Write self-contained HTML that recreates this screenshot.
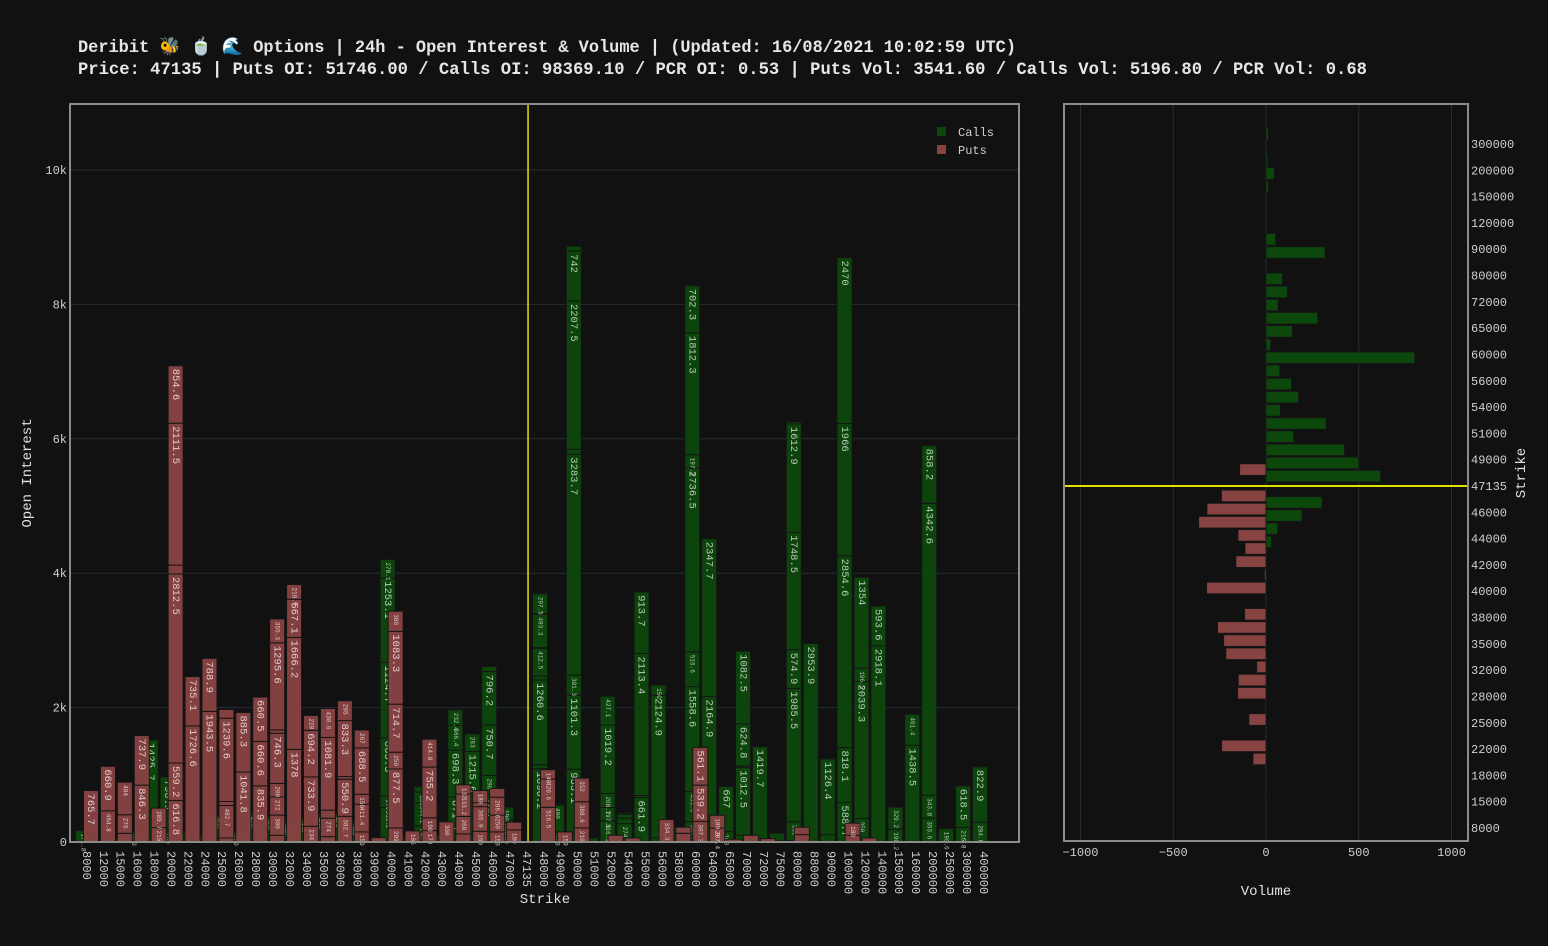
<!DOCTYPE html>
<html><head><meta charset="utf-8">
<style>
html,body{margin:0;padding:0;background:#111111;}
svg{display:block;font-family:"Liberation Mono","DejaVu Sans Mono",monospace;}
</style></head>
<body>
<svg id="chart" width="1548" height="946" viewBox="0 0 1548 946" xmlns="http://www.w3.org/2000/svg">
<rect x="0" y="0" width="1548" height="946" fill="#111111"/>
<text x="78" y="52" fill="#e6e6e6" font-size="17.5" font-weight="bold" textLength="938" lengthAdjust="spacingAndGlyphs">Deribit 🐝 🍵 🌊 Options | 24h - Open Interest &amp; Volume | (Updated: 16/08/2021 10:02:59 UTC)</text>
<text x="78" y="74" fill="#e6e6e6" font-size="17.5" font-weight="bold" textLength="1289" lengthAdjust="spacingAndGlyphs">Price: 47135 | Puts OI: 51746.00 / Calls OI: 98369.10 / PCR OI: 0.53 | Puts Vol: 3541.60 / Calls Vol: 5196.80 / PCR Vol: 0.68</text>
<g id="main"></g>
<g id="vol"></g>
</svg>
<script>
const strikes = [8000,12000,15000,16000,18000,20000,22000,24000,25000,26000,28000,30000,32000,34000,35000,36000,38000,39000,40000,41000,42000,43000,44000,45000,46000,47000,47135,48000,49000,50000,51000,52000,54000,55000,56000,58000,60000,64000,65000,70000,72000,75000,80000,88000,90000,100000,120000,140000,150000,160000,200000,250000,300000,400000];
const callsOI = [[171.8],[0],[60],[150],[94,1425.7],[180,790.1],[130],[100],[400],[150],[420],[380],[300],[350],[400],[420],[300],[0],[513.2,170,865.5,1124.7,1253.1,278.1],[60],[240,344.2,160,80],[100],[671.1,698.3,366.4,232.4],[130,1215.6,263],[700,290,750.7,796.2,75],[180,150,190],[0],[1090.2,60,1260.6,60,412.5,10,493.3,10,297.5],[150,400],[130,953.1,1101.3,301.3,3283.7,74.7,2207.5,742,70],[60],[316.1,197.5,208.7,1019.2,427.1,10],[274,80,60,20],[661.9,30,2113.4,913.7],[60,2124.9,150],[120,100],[301.1,453.6,1558.6,516.6,2736.5,197.3,1812.3,702.3],[2164.9,2347.7],[160,667],[100,1012.5,20,624.8,1082.5],[1419.7],[131.4],[300,1985.5,574.9,1748.5,1612.9,30],[2953.9],[110,1126.4],[588.7,818.1,2854.6,1966,2470],[350,2039.3,196.5,1354],[2918.1,593.6],[190.2,329.2],[1438.5,461.4],[353.6,343.8,4342.6,858.2],[198.6],[216.8,618.5],[294.8,822.9]];
const putsOI = [[765.7],[464.8,660.9],[130,276,484],[846.3,737.9],[215,289.7],[616.8,559.2,2812.5,132.2,2111.5,854.6],[1726.6,735.1],[1943.5,788.9],[60,482.7,60,1239.6,130],[1041.8,885.3],[835.9,660.6,660.5],[100,300,272,200,746.3,50,1295.6,355.3],[1378,1666.2,567.1,219.9],[234,733.9,694.2,220],[80,274,120,1081.9,430.6],[382.7,550.9,40,833.3,295],[150,411.4,150,688.5,267],[65],[209,877.5,250,714.7,1083.3,300],[165],[170,190,755.2,414.8],[300],[120,260,333.2,137],[160,365.9,60,180],[150,250,266.6,130],[180,115],[0],[516.5,420.6,140],[150],[210,388.6,352],[0],[100],[60],[0],[334.3],[130,90],[307.3,539.2,561.1],[207.4,189.9],[40],[100],[50],[20],[110,110],[0],[0],[100,180],[60],[0],[0],[0],[0],[0],[0],[0]];
const putsVol = [0,0,5,0,0,70,239,0,92,5,153,149,50,216,228,261,115,0,320,8,162,113,151,363,318,240,0,142,0,0,0,0,0,0,0,0,0,0,0,0,0,0,0,0,0,0,0,0,0,0,0,0,0,0];
const callsVol = [0,0,0,0,0,0,0,0,0,0,0,0,0,0,0,0,0,0,0,0,0,0,29,63,194,302,0,617,500,423,149,324,77,175,137,74,802,25,142,279,65,115,88,0,318,52,0,0,0,13,45,9,0,13];
const oiTicks = [0,2000,4000,6000,8000,10000];
const oiTickLabels = ["0","2k","4k","6k","8k","10k"];
const volTicks = [-1000,-500,0,500,1000];
const volTickLabels = ["−1000","−500","0","500","1000"];
const spotStrike = 47135;

const NS = "http://www.w3.org/2000/svg";
function mk(tag, attrs, parent){const e=document.createElementNS(NS,tag);for(const k in attrs)e.setAttribute(k,attrs[k]);parent.appendChild(e);return e;}
const GREEN="#0c470c", RED="#874242";

// ---- main panel ----
const main=document.getElementById('main');
const M={l:70,r:1019,t:104,b:842};
const xCat=i=>86+i*((983-86)/(strikes.length-1));
const yOI=v=>M.b - v*(M.b-170)/10000;
oiTicks.forEach((t,i)=>{
  if(t>0){const g=mk('line',{x1:M.l,x2:M.r,y1:yOI(t),y2:yOI(t),stroke:'#262d38','stroke-width':1},main);
  
  }
  const tx=mk('text',{x:67,y:yOI(t)+4,'text-anchor':'end',fill:'#d0d0d0','font-size':12},main);
  tx.textContent=oiTickLabels[i];
  
  
});
function drawStack(segs,cx,color,txtColor,name){
  let base=0;
  segs.forEach(v=>{
    if(v<=0)return;
    const y0=yOI(base), y1=yOI(base+v), h=y0-y1;
    const r=mk('rect',{x:cx-7.5,y:y1,width:15,height:h,fill:color,stroke:'#161616','stroke-width':1,opacity:0.96},main);
    
    
    if(h>=9){
      const fs=h>36?10.5:6;
      const t=mk('text',{x:cx,y:y1+3,fill:txtColor,'font-size':fs,'dominant-baseline':'middle',transform:`rotate(90 ${cx} ${y1+3})`},main);
      t.textContent=String(v);
      
      
    }
    base+=v;
  });
}
strikes.forEach((s,i)=>{drawStack(callsOI[i],xCat(i)-3,GREEN,'#b7ccb7','calls-oi-bar');});
strikes.forEach((s,i)=>{drawStack(putsOI[i],xCat(i)+5,RED,'#e4caca','puts-oi-bar');});
const spotI=strikes.indexOf(spotStrike);
const sl=mk('line',{x1:xCat(spotI)+2,x2:xCat(spotI)+2,y1:M.t,y2:M.b,stroke:'#e0e000','stroke-width':1.5},main);


const fr=mk('rect',{x:M.l,y:M.t,width:M.r-M.l,height:M.b-M.t,fill:'none',stroke:'#8c8c8c','stroke-width':2},main);


strikes.forEach((s,i)=>{
  const x=xCat(i);
  const t=mk('text',{x:x,y:851,fill:'#d0d0d0','font-size':12,'dominant-baseline':'middle',transform:`rotate(90 ${x} 851)`},main);
  t.textContent=String(s);
  
  
});
let t1=mk('text',{x:545,y:903,'text-anchor':'middle',fill:'#e0e0e0','font-size':14},main);t1.textContent='Strike';


let t2=mk('text',{x:31,y:473,'text-anchor':'middle',fill:'#e0e0e0','font-size':14,transform:'rotate(-90 31 473)'},main);t2.textContent='Open Interest';


// legend
const lg=mk('g',{},main);


let lr1=mk('rect',{x:937,y:127,width:9,height:9,fill:GREEN},lg);


let lt1=mk('text',{x:958,y:136,fill:'#d0d0d0','font-size':12},lg);lt1.textContent='Calls';


let lr2=mk('rect',{x:937,y:145,width:9,height:9,fill:RED},lg);


let lt2=mk('text',{x:958,y:154,fill:'#d0d0d0','font-size':12},lg);lt2.textContent='Puts';



// ---- volume panel ----
const vol=document.getElementById('vol');
const V={l:1064,r:1468,t:104,b:841};
const xV=v=>1266+v*(1452-1081)/2000;
const yV=i=>828-i*((828-144)/52);
volTicks.forEach((t,i)=>{
  const g=mk('line',{x1:xV(t),x2:xV(t),y1:V.t,y2:V.b,stroke:'#262d38','stroke-width':1},vol);
  
  
  const tx=mk('text',{x:xV(t),y:856,'text-anchor':'middle',fill:'#d0d0d0','font-size':12},vol);
  tx.textContent=volTickLabels[i];
  
  
});
strikes.forEach((s,i)=>{
  const yc=yV(i);
  if(putsVol[i]>0){
    const r=mk('rect',{x:xV(-putsVol[i]),y:yc-9,width:xV(0)-xV(-putsVol[i]),height:11.5,fill:RED,stroke:'#161616','stroke-width':0.8},vol);
    
    
  }
  if(callsVol[i]>0){
    const r=mk('rect',{x:xV(0),y:yc-2.5,width:xV(callsVol[i])-xV(0),height:11.5,fill:GREEN,stroke:'#161616','stroke-width':0.8},vol);
    
    
  }
  if(i%2===0){
    const tx=mk('text',{x:1471,y:yc+4,fill:'#d0d0d0','font-size':12},vol);
    tx.textContent=String(s);
    
    
  }
});
const sv=mk('line',{x1:V.l,x2:V.r,y1:yV(spotI),y2:yV(spotI),stroke:'#e0e000','stroke-width':2},vol);


const fr2=mk('rect',{x:V.l,y:V.t,width:V.r-V.l,height:V.b-V.t,fill:'none',stroke:'#8c8c8c','stroke-width':2},vol);


let t3=mk('text',{x:1266,y:895,'text-anchor':'middle',fill:'#e0e0e0','font-size':14},vol);t3.textContent='Volume';


let t4=mk('text',{x:1525,y:473,'text-anchor':'middle',fill:'#e0e0e0','font-size':14,transform:'rotate(-90 1525 473)'},vol);t4.textContent='Strike';


</script>
</body></html>
